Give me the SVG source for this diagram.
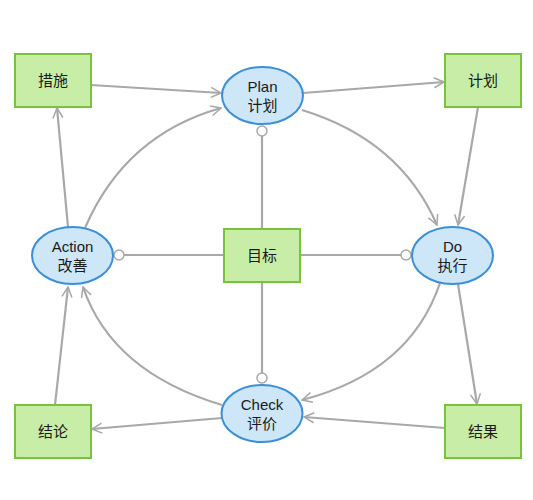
<svg xmlns="http://www.w3.org/2000/svg" width="533" height="500" viewBox="0 0 533 500">
<style>
.box{fill:#c8eda6;stroke:#78c23c;stroke-width:2}
.ell{fill:#cde6f8;stroke:#3a8fd8;stroke-width:2}
.ln{fill:none;stroke:#a8a8a8;stroke-width:2.2}
.arr{fill:none;stroke:#a8a8a8;stroke-width:2.2;marker-end:url(#ah)}
.dot{fill:#fff;stroke:#a8a8a8;stroke-width:1.5}
text{font-family:"Liberation Sans","Noto Sans CJK SC",sans-serif;font-size:15px;fill:#1a1a1a;text-anchor:middle}
</style>
<defs>
<marker id="ah" viewBox="0 0 12 12" refX="11" refY="6" markerWidth="12" markerHeight="12" markerUnits="userSpaceOnUse" orient="auto">
<path d="M1,1 L11,6 L1,11" fill="none" stroke="#a8a8a8" stroke-width="1.5"/>
</marker>
</defs>
<rect width="533" height="500" fill="#fff"/>
<g id="connectors">
<line class="ln" x1="262" y1="229" x2="262" y2="136"/>
<line class="ln" x1="262" y1="282" x2="262" y2="373"/>
<line class="ln" x1="224" y1="255" x2="124" y2="255"/>
<line class="ln" x1="300" y1="255" x2="401" y2="255"/>
<circle class="dot" cx="262" cy="131" r="5"/>
<circle class="dot" cx="262" cy="378" r="5"/>
<circle class="dot" cx="119" cy="255" r="5"/>
<circle class="dot" cx="406" cy="255" r="5"/>
<line class="arr" x1="91" y1="85" x2="221" y2="93"/>
<line class="arr" x1="303" y1="93" x2="444" y2="82"/>
<line class="arr" x1="478" y1="107" x2="458" y2="225"/>
<line class="arr" x1="458" y1="284" x2="477" y2="404"/>
<line class="arr" x1="445" y1="428" x2="304" y2="417"/>
<line class="arr" x1="222" y1="418" x2="92" y2="429"/>
<line class="arr" x1="55" y1="405" x2="68" y2="287"/>
<line class="arr" x1="68" y1="227" x2="57" y2="108"/>
<path class="arr" d="M85,228 Q125,135 221,108"/>
<path class="arr" d="M302,110 Q400,140 437,225"/>
<path class="arr" d="M440,283 Q410,372 302,400"/>
<path class="arr" d="M222,405 Q112,372 83,287"/>
</g>
<g id="cuoshi"><rect class="box" x="15" y="54" width="76" height="53"/><text x="53" y="86">措施</text></g>
<g id="jihua-box"><rect class="box" x="445" y="54" width="76" height="53"/><text x="483" y="86">计划</text></g>
<g id="mubiao"><rect class="box" x="224" y="229" width="76" height="53"/><text x="262" y="261">目标</text></g>
<g id="jielun"><rect class="box" x="15" y="405" width="76" height="53"/><text x="53" y="437">结论</text></g>
<g id="jieguo"><rect class="box" x="445" y="405" width="76" height="53"/><text x="483" y="437">结果</text></g>
<g id="plan"><ellipse class="ell" cx="262.5" cy="95.5" rx="40.5" ry="28.5"/><text x="262.5" y="92">Plan</text><text x="262.5" y="111">计划</text></g>
<g id="do"><ellipse class="ell" cx="452.5" cy="255.5" rx="40.5" ry="28.5"/><text x="452.5" y="252">Do</text><text x="452.5" y="271">执行</text></g>
<g id="action"><ellipse class="ell" cx="72.5" cy="255.5" rx="40.5" ry="28.5"/><text x="72.5" y="252">Action</text><text x="72.5" y="271">改善</text></g>
<g id="check"><ellipse class="ell" cx="262" cy="413.5" rx="40.5" ry="28.5"/><text x="262" y="410">Check</text><text x="262" y="429">评价</text></g>
</svg>
